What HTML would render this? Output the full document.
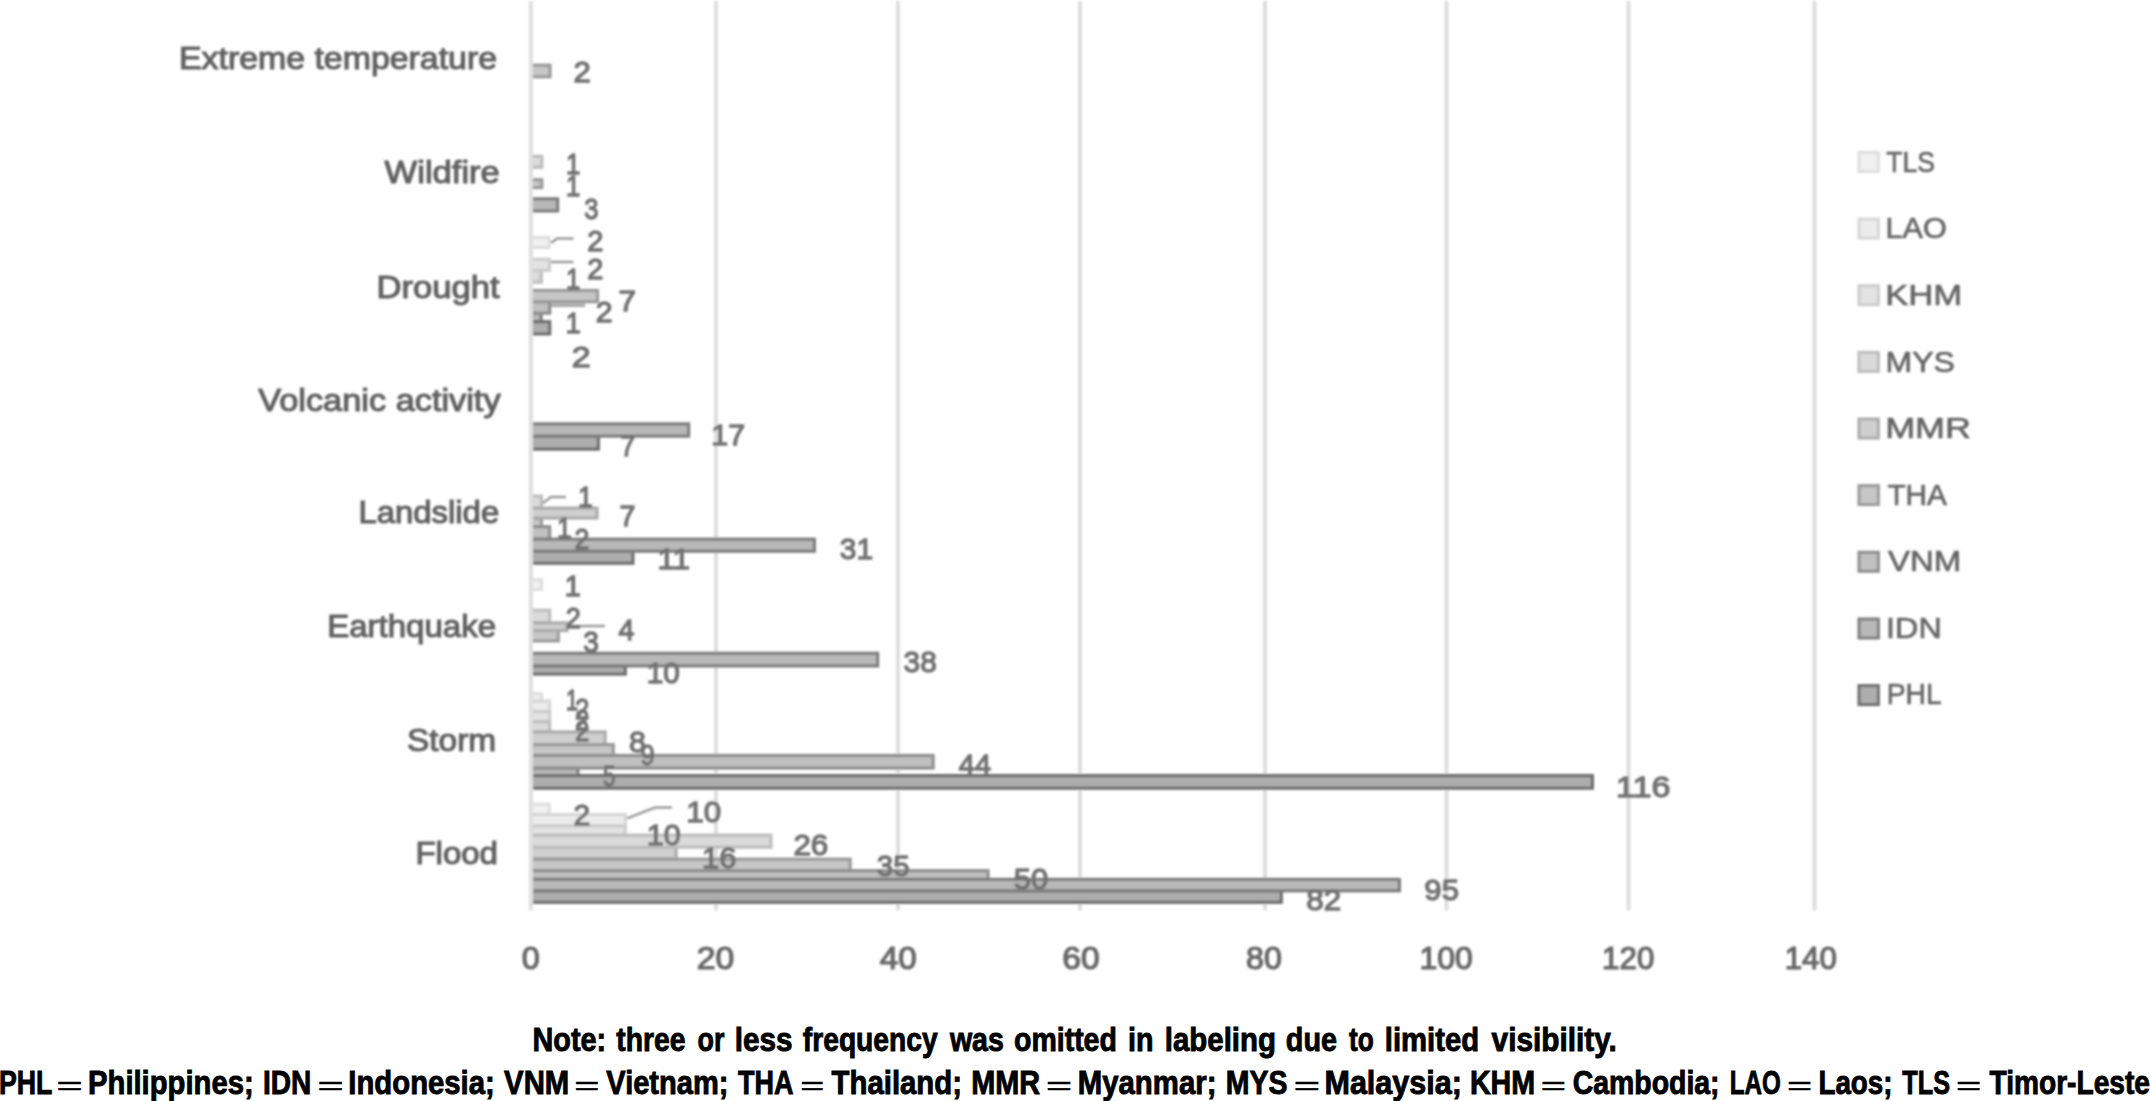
<!DOCTYPE html>
<html lang="en"><head><meta charset="utf-8"><title>Frequency of natural hazards by country</title>
<style>
html,body{margin:0;padding:0;background:#fff;}
body{width:2150px;height:1101px;overflow:hidden;}
svg{display:block;}
.c{font-family:"Liberation Sans",sans-serif;font-size:30.5px;}
.cat{fill:#626262;stroke:#626262;stroke-width:1.1px;}
.dl{fill:#727272;stroke:#727272;stroke-width:1.3px;font-size:29.6px;}
.ax{fill:#686868;stroke:#686868;stroke-width:1.2px;font-size:30.6px;}
.lg{fill:#666;stroke:#666;stroke-width:.7px;font-size:29.8px;}
.note{font-family:"Liberation Sans",sans-serif;font-weight:bold;font-size:33px;fill:#000;stroke:#000;stroke-width:.9px;}
.eq{font-weight:normal;font-size:25px;stroke-width:.5px;}
</style></head><body>
<svg width="2150" height="1101" viewBox="0 0 2150 1101">
<defs><filter id="b" x="-2%" y="-2%" width="104%" height="104%"><feGaussianBlur stdDeviation="0.8"/></filter></defs>
<rect width="2150" height="1101" fill="#fff"/>
<g filter="url(#b)">
<line x1="530.9" y1="1" x2="530.9" y2="910.5" stroke="#dedede" stroke-width="4"/>
<line x1="716" y1="1" x2="716" y2="910.5" stroke="#dedede" stroke-width="4"/>
<line x1="898" y1="1" x2="898" y2="910.5" stroke="#dedede" stroke-width="4"/>
<line x1="1080" y1="1" x2="1080" y2="910.5" stroke="#dedede" stroke-width="4"/>
<line x1="1265" y1="1" x2="1265" y2="910.5" stroke="#dedede" stroke-width="4"/>
<line x1="1446.5" y1="1" x2="1446.5" y2="910.5" stroke="#dedede" stroke-width="4"/>
<line x1="1628.5" y1="1" x2="1628.5" y2="910.5" stroke="#dedede" stroke-width="4"/>
<line x1="1814.5" y1="1" x2="1814.5" y2="910.5" stroke="#dedede" stroke-width="4"/>
<clipPath id="cp"><rect x="533" y="0" width="1400" height="920"/></clipPath>
<g clip-path="url(#cp)">
<rect x="531.0" y="804.20" width="18.2" height="10.30" fill="#f1f1f1" stroke="#dedede" stroke-width="3.2"/>
<rect x="531.0" y="814.50" width="94.2" height="11.50" fill="#ececec" stroke="#d6d6d6" stroke-width="3.2"/>
<rect x="531.0" y="826.00" width="94.2" height="9.20" fill="#e3e3e3" stroke="#cccccc" stroke-width="3.2"/>
<rect x="531.0" y="847.20" width="145.1" height="12.00" fill="#cfcfcf" stroke="#ababab" stroke-width="3.2"/>
<rect x="531.0" y="835.20" width="239.9" height="12.00" fill="#dadada" stroke="#bebebe" stroke-width="3.2"/>
<rect x="531.0" y="859.20" width="319.2" height="11.50" fill="#c6c6c6" stroke="#9a9a9a" stroke-width="3.2"/>
<rect x="531.0" y="870.70" width="457.0" height="8.70" fill="#c0c0c0" stroke="#8e8e8e" stroke-width="3.2"/>
<rect x="531.0" y="890.80" width="750.3" height="11.50" fill="#adadad" stroke="#6e6e6e" stroke-width="3.2"/>
<rect x="531.0" y="879.40" width="868.4" height="11.40" fill="#b8b8b8" stroke="#7e7e7e" stroke-width="3.2"/>
<rect x="531.0" y="693.90" width="10.4" height="7.10" fill="#f1f1f1" stroke="#dedede" stroke-width="3.2"/>
<rect x="531.0" y="701.00" width="18.6" height="10.50" fill="#ececec" stroke="#d6d6d6" stroke-width="3.2"/>
<rect x="531.0" y="711.50" width="18.6" height="10.20" fill="#e3e3e3" stroke="#cccccc" stroke-width="3.2"/>
<rect x="531.0" y="721.70" width="18.6" height="10.30" fill="#dadada" stroke="#bebebe" stroke-width="3.2"/>
<rect x="531.0" y="768.00" width="46.9" height="7.60" fill="#b8b8b8" stroke="#7e7e7e" stroke-width="3.2"/>
<rect x="531.0" y="732.00" width="74.1" height="12.60" fill="#cfcfcf" stroke="#ababab" stroke-width="3.2"/>
<rect x="531.0" y="744.60" width="82.3" height="10.90" fill="#c6c6c6" stroke="#9a9a9a" stroke-width="3.2"/>
<rect x="531.0" y="755.50" width="402.1" height="12.50" fill="#c0c0c0" stroke="#8e8e8e" stroke-width="3.2"/>
<rect x="531.0" y="775.60" width="1061.4" height="12.60" fill="#adadad" stroke="#6e6e6e" stroke-width="3.2"/>
<rect x="531.0" y="579.90" width="10.4" height="9.70" fill="#f1f1f1" stroke="#dedede" stroke-width="3.2"/>
<rect x="531.0" y="610.30" width="18.6" height="12.60" fill="#dadada" stroke="#bebebe" stroke-width="3.2"/>
<rect x="531.0" y="630.50" width="27.3" height="10.40" fill="#c6c6c6" stroke="#9a9a9a" stroke-width="3.2"/>
<rect x="531.0" y="622.90" width="36.0" height="7.60" fill="#cfcfcf" stroke="#ababab" stroke-width="3.2"/>
<rect x="531.0" y="665.90" width="94.3" height="8.20" fill="#adadad" stroke="#6e6e6e" stroke-width="3.2"/>
<rect x="531.0" y="653.30" width="346.6" height="12.60" fill="#b8b8b8" stroke="#7e7e7e" stroke-width="3.2"/>
<rect x="531.0" y="496.10" width="10.4" height="12.00" fill="#dadada" stroke="#bebebe" stroke-width="3.2"/>
<rect x="531.0" y="518.00" width="10.4" height="8.70" fill="#c6c6c6" stroke="#9a9a9a" stroke-width="3.2"/>
<rect x="531.0" y="526.70" width="18.6" height="12.50" fill="#c0c0c0" stroke="#8e8e8e" stroke-width="3.2"/>
<rect x="531.0" y="508.10" width="66.0" height="9.90" fill="#cfcfcf" stroke="#ababab" stroke-width="3.2"/>
<rect x="531.0" y="551.20" width="101.9" height="12.00" fill="#adadad" stroke="#6e6e6e" stroke-width="3.2"/>
<rect x="531.0" y="539.20" width="283.4" height="12.00" fill="#b8b8b8" stroke="#7e7e7e" stroke-width="3.2"/>
<rect x="531.0" y="436.10" width="67.4" height="13.00" fill="#adadad" stroke="#6e6e6e" stroke-width="3.2"/>
<rect x="531.0" y="423.90" width="157.6" height="12.20" fill="#b8b8b8" stroke="#7e7e7e" stroke-width="3.2"/>
<rect x="531.0" y="270.30" width="10.3" height="12.00" fill="#dadada" stroke="#bebebe" stroke-width="3.2"/>
<rect x="531.0" y="313.20" width="10.1" height="8.50" fill="#b8b8b8" stroke="#7e7e7e" stroke-width="3.2"/>
<rect x="531.0" y="237.50" width="17.9" height="10.00" fill="#f1f1f1" stroke="#dedede" stroke-width="3.2"/>
<rect x="531.0" y="259.30" width="18.4" height="11.00" fill="#e3e3e3" stroke="#cccccc" stroke-width="3.2"/>
<rect x="531.0" y="301.70" width="18.7" height="11.50" fill="#c0c0c0" stroke="#8e8e8e" stroke-width="3.2"/>
<rect x="531.0" y="321.70" width="18.7" height="12.20" fill="#adadad" stroke="#6e6e6e" stroke-width="3.2"/>
<rect x="531.0" y="290.50" width="66.5" height="11.20" fill="#c6c6c6" stroke="#9a9a9a" stroke-width="3.2"/>
<rect x="531.0" y="156.30" width="10.8" height="11.00" fill="#dadada" stroke="#bebebe" stroke-width="3.2"/>
<rect x="531.0" y="179.70" width="10.8" height="7.90" fill="#c6c6c6" stroke="#9a9a9a" stroke-width="3.2"/>
<rect x="531.0" y="198.80" width="26.6" height="12.10" fill="#b8b8b8" stroke="#7e7e7e" stroke-width="3.2"/>
<rect x="531.0" y="65.20" width="19.0" height="11.60" fill="#c6c6c6" stroke="#9a9a9a" stroke-width="3.2"/>
</g>
<polyline points="551,243 557,238.5 573.5,238.5" fill="none" stroke="#9c9c9c" stroke-width="2.5"/>
<polyline points="551,262 573.5,262" fill="none" stroke="#9c9c9c" stroke-width="2.5"/>
<polyline points="543,503 551,497 566,497" fill="none" stroke="#9c9c9c" stroke-width="2.5"/>
<polyline points="568,626 605,626" fill="none" stroke="#9c9c9c" stroke-width="2.5"/>
<polyline points="627,818.3 655,807.5 672,807.5" fill="none" stroke="#9c9c9c" stroke-width="2.5"/>
<line x1="551" y1="305.3" x2="585" y2="305.3" stroke="#a8a8a8" stroke-width="3.6"/>
<text class="c cat" x="415.40" y="864.20" textLength="82.60" lengthAdjust="spacingAndGlyphs">Flood</text>
<text class="c cat" x="407.00" y="750.60" textLength="89.20" lengthAdjust="spacingAndGlyphs">Storm</text>
<text class="c cat" x="327.20" y="636.80" textLength="168.80" lengthAdjust="spacingAndGlyphs">Earthquake</text>
<text class="c cat" x="358.40" y="523.20" textLength="140.80" lengthAdjust="spacingAndGlyphs">Landslide</text>
<text class="c cat" x="258.20" y="411.00" textLength="242.40" lengthAdjust="spacingAndGlyphs">Volcanic activity</text>
<text class="c cat" x="376.40" y="297.60" textLength="123.20" lengthAdjust="spacingAndGlyphs">Drought</text>
<text class="c cat" x="384.60" y="183.00" textLength="115.20" lengthAdjust="spacingAndGlyphs">Wildfire</text>
<text class="c cat" x="179.00" y="69.20" textLength="318.00" lengthAdjust="spacingAndGlyphs">Extreme temperature</text>
<text class="c dl" x="573.43" y="82.0" textLength="17.34" lengthAdjust="spacingAndGlyphs">2</text>
<text class="c dl" x="565.94" y="174.4" textLength="14.32" lengthAdjust="spacingAndGlyphs">1</text>
<text class="c dl" x="565.94" y="196.2" textLength="14.32" lengthAdjust="spacingAndGlyphs">1</text>
<text class="c dl" x="584.32" y="218.5" textLength="14.31" lengthAdjust="spacingAndGlyphs">3</text>
<text class="c dl" x="587.14" y="251.2" textLength="16.11" lengthAdjust="spacingAndGlyphs">2</text>
<text class="c dl" x="587.14" y="278.5" textLength="16.11" lengthAdjust="spacingAndGlyphs">2</text>
<text class="c dl" x="565.94" y="288.8" textLength="14.32" lengthAdjust="spacingAndGlyphs">1</text>
<text class="c dl" x="618.59" y="310.5" textLength="17.49" lengthAdjust="spacingAndGlyphs">7</text>
<text class="c dl" x="595.78" y="321.5" textLength="16.85" lengthAdjust="spacingAndGlyphs">2</text>
<text class="c dl" x="565.85" y="332.9" textLength="14.96" lengthAdjust="spacingAndGlyphs">1</text>
<text class="c dl" x="571.79" y="367.0" textLength="18.92" lengthAdjust="spacingAndGlyphs">2</text>
<text class="c dl" x="711.29" y="444.5" textLength="33.74" lengthAdjust="spacingAndGlyphs">17</text>
<text class="c dl" x="620.32" y="456.0" textLength="14.93" lengthAdjust="spacingAndGlyphs">7</text>
<text class="c dl" x="577.97" y="506.5" textLength="14.83" lengthAdjust="spacingAndGlyphs">1</text>
<text class="c dl" x="619.53" y="525.9" textLength="15.90" lengthAdjust="spacingAndGlyphs">7</text>
<text class="c dl" x="557.00" y="537.5" textLength="14.58" lengthAdjust="spacingAndGlyphs">1</text>
<text class="c dl" x="574.45" y="548.8" textLength="14.89" lengthAdjust="spacingAndGlyphs">2</text>
<text class="c dl" x="839.76" y="558.5" textLength="33.30" lengthAdjust="spacingAndGlyphs">31</text>
<text class="c dl" x="657.46" y="569.2" textLength="32.67" lengthAdjust="spacingAndGlyphs">11</text>
<text class="c dl" x="564.81" y="596.3" textLength="16.00" lengthAdjust="spacingAndGlyphs">1</text>
<text class="c dl" x="565.63" y="628.1" textLength="15.14" lengthAdjust="spacingAndGlyphs">2</text>
<text class="c dl" x="618.54" y="640.3" textLength="15.89" lengthAdjust="spacingAndGlyphs">4</text>
<text class="c dl" x="583.32" y="651.5" textLength="15.72" lengthAdjust="spacingAndGlyphs">3</text>
<text class="c dl" x="903.56" y="672.1" textLength="33.24" lengthAdjust="spacingAndGlyphs">38</text>
<text class="c dl" x="646.63" y="683.3" textLength="33.13" lengthAdjust="spacingAndGlyphs">10</text>
<text class="c dl" x="565.96" y="709.5" textLength="12.00" lengthAdjust="spacingAndGlyphs">1</text>
<text class="c dl" x="575.10" y="719.1" textLength="14.41" lengthAdjust="spacingAndGlyphs">2</text>
<text class="c dl" x="575.10" y="730.1" textLength="14.41" lengthAdjust="spacingAndGlyphs">2</text>
<text class="c dl" x="575.10" y="741.1" textLength="14.41" lengthAdjust="spacingAndGlyphs">2</text>
<text class="c dl" x="629.08" y="752.4" textLength="16.95" lengthAdjust="spacingAndGlyphs">8</text>
<text class="c dl" x="640.50" y="764.5" textLength="14.21" lengthAdjust="spacingAndGlyphs">9</text>
<text class="c dl" x="958.84" y="775.0" textLength="32.21" lengthAdjust="spacingAndGlyphs">44</text>
<text class="c dl" x="603.10" y="786.3" textLength="12.43" lengthAdjust="spacingAndGlyphs">5</text>
<text class="c dl" x="1616.02" y="797.0" textLength="54.42" lengthAdjust="spacingAndGlyphs">116</text>
<text class="c dl" x="573.49" y="824.5" textLength="16.72" lengthAdjust="spacingAndGlyphs">2</text>
<text class="c dl" x="686.31" y="822.1" textLength="34.92" lengthAdjust="spacingAndGlyphs">10</text>
<text class="c dl" x="646.76" y="845.4" textLength="34.14" lengthAdjust="spacingAndGlyphs">10</text>
<text class="c dl" x="701.94" y="868.0" textLength="34.42" lengthAdjust="spacingAndGlyphs">16</text>
<text class="c dl" x="793.42" y="854.9" textLength="34.85" lengthAdjust="spacingAndGlyphs">26</text>
<text class="c dl" x="876.77" y="876.2" textLength="32.97" lengthAdjust="spacingAndGlyphs">35</text>
<text class="c dl" x="1013.76" y="888.5" textLength="34.45" lengthAdjust="spacingAndGlyphs">50</text>
<text class="c dl" x="1424.34" y="899.8" textLength="34.67" lengthAdjust="spacingAndGlyphs">95</text>
<text class="c dl" x="1306.34" y="909.9" textLength="34.84" lengthAdjust="spacingAndGlyphs">82</text>
<text class="c ax" x="521.73" y="968.6" textLength="18.03" lengthAdjust="spacingAndGlyphs">0</text>
<text class="c ax" x="696.80" y="968.6" textLength="37.51" lengthAdjust="spacingAndGlyphs">20</text>
<text class="c ax" x="879.74" y="968.6" textLength="37.07" lengthAdjust="spacingAndGlyphs">40</text>
<text class="c ax" x="1062.29" y="968.6" textLength="37.42" lengthAdjust="spacingAndGlyphs">60</text>
<text class="c ax" x="1246.00" y="968.6" textLength="35.86" lengthAdjust="spacingAndGlyphs">80</text>
<text class="c ax" x="1419.57" y="968.6" textLength="53.28" lengthAdjust="spacingAndGlyphs">100</text>
<text class="c ax" x="1602.12" y="968.6" textLength="52.21" lengthAdjust="spacingAndGlyphs">120</text>
<text class="c ax" x="1784.72" y="968.6" textLength="52.21" lengthAdjust="spacingAndGlyphs">140</text>
<rect x="1859" y="152.4" width="19.4" height="19" fill="#f1f1f1" stroke="#dedede" stroke-width="3"/>
<text class="c lg" x="1886.30" y="171.8" textLength="48.61" lengthAdjust="spacingAndGlyphs">TLS</text>
<rect x="1859" y="219.1" width="19.4" height="19" fill="#ececec" stroke="#d6d6d6" stroke-width="3"/>
<text class="c lg" x="1885.59" y="238.4" textLength="61.28" lengthAdjust="spacingAndGlyphs">LAO</text>
<rect x="1859" y="285.7" width="19.4" height="19" fill="#e3e3e3" stroke="#cccccc" stroke-width="3"/>
<text class="c lg" x="1885.26" y="305.0" textLength="76.98" lengthAdjust="spacingAndGlyphs">KHM</text>
<rect x="1859" y="352.4" width="19.4" height="19" fill="#dadada" stroke="#bebebe" stroke-width="3"/>
<text class="c lg" x="1885.47" y="371.5" textLength="69.40" lengthAdjust="spacingAndGlyphs">MYS</text>
<rect x="1859" y="419.0" width="19.4" height="19" fill="#cfcfcf" stroke="#ababab" stroke-width="3"/>
<text class="c lg" x="1885.15" y="438.1" textLength="85.92" lengthAdjust="spacingAndGlyphs">MMR</text>
<rect x="1859" y="485.6" width="19.4" height="19" fill="#c6c6c6" stroke="#9a9a9a" stroke-width="3"/>
<text class="c lg" x="1887.43" y="504.7" textLength="59.53" lengthAdjust="spacingAndGlyphs">THA</text>
<rect x="1859" y="552.3" width="19.4" height="19" fill="#c0c0c0" stroke="#8e8e8e" stroke-width="3"/>
<text class="c lg" x="1887.96" y="571.3" textLength="73.14" lengthAdjust="spacingAndGlyphs">VNM</text>
<rect x="1859" y="619.0" width="19.4" height="19" fill="#b8b8b8" stroke="#7e7e7e" stroke-width="3"/>
<text class="c lg" x="1886.12" y="637.9" textLength="55.61" lengthAdjust="spacingAndGlyphs">IDN</text>
<rect x="1859" y="685.6" width="19.4" height="19" fill="#adadad" stroke="#6e6e6e" stroke-width="3"/>
<text class="c lg" x="1886.78" y="704.4" textLength="54.96" lengthAdjust="spacingAndGlyphs">PHL</text>
</g>
<text class="note" x="532.57" y="1051.3" textLength="73.60" lengthAdjust="spacingAndGlyphs">Note:</text>
<text class="note" x="616.25" y="1051.3" textLength="69.31" lengthAdjust="spacingAndGlyphs">three</text>
<text class="note" x="697.55" y="1051.3" textLength="26.86" lengthAdjust="spacingAndGlyphs">or</text>
<text class="note" x="734.73" y="1051.3" textLength="57.79" lengthAdjust="spacingAndGlyphs">less</text>
<text class="note" x="802.82" y="1051.3" textLength="134.83" lengthAdjust="spacingAndGlyphs">frequency</text>
<text class="note" x="949.88" y="1051.3" textLength="53.99" lengthAdjust="spacingAndGlyphs">was</text>
<text class="note" x="1013.99" y="1051.3" textLength="102.89" lengthAdjust="spacingAndGlyphs">omitted</text>
<text class="note" x="1128.00" y="1051.3" textLength="25.48" lengthAdjust="spacingAndGlyphs">in</text>
<text class="note" x="1164.74" y="1051.3" textLength="111.22" lengthAdjust="spacingAndGlyphs">labeling</text>
<text class="note" x="1285.82" y="1051.3" textLength="51.16" lengthAdjust="spacingAndGlyphs">due</text>
<text class="note" x="1348.98" y="1051.3" textLength="24.74" lengthAdjust="spacingAndGlyphs">to</text>
<text class="note" x="1384.76" y="1051.3" textLength="94.27" lengthAdjust="spacingAndGlyphs">limited</text>
<text class="note" x="1491.59" y="1051.3" textLength="125.33" lengthAdjust="spacingAndGlyphs">visibility.</text>
<text class="note" x="-0.99" y="1093.6" textLength="53.41" lengthAdjust="spacingAndGlyphs">PHL</text>
<text class="note eq" x="56.41" y="1094.3" textLength="26.20" lengthAdjust="spacingAndGlyphs">=</text>
<text class="note" x="88.04" y="1093.6" textLength="165.64" lengthAdjust="spacingAndGlyphs">Philippines;</text>
<text class="note" x="263.02" y="1093.6" textLength="48.37" lengthAdjust="spacingAndGlyphs">IDN</text>
<text class="note eq" x="317.61" y="1094.3" textLength="26.20" lengthAdjust="spacingAndGlyphs">=</text>
<text class="note" x="348.34" y="1093.6" textLength="146.45" lengthAdjust="spacingAndGlyphs">Indonesia;</text>
<text class="note" x="504.10" y="1093.6" textLength="65.16" lengthAdjust="spacingAndGlyphs">VNM</text>
<text class="note eq" x="574.39" y="1094.3" textLength="25.24" lengthAdjust="spacingAndGlyphs">=</text>
<text class="note" x="606.30" y="1093.6" textLength="122.15" lengthAdjust="spacingAndGlyphs">Vietnam;</text>
<text class="note" x="738.00" y="1093.6" textLength="55.41" lengthAdjust="spacingAndGlyphs">THA</text>
<text class="note eq" x="800.19" y="1094.3" textLength="24.04" lengthAdjust="spacingAndGlyphs">=</text>
<text class="note" x="831.57" y="1093.6" textLength="130.42" lengthAdjust="spacingAndGlyphs">Thailand;</text>
<text class="note" x="971.27" y="1093.6" textLength="68.92" lengthAdjust="spacingAndGlyphs">MMR</text>
<text class="note eq" x="1046.12" y="1094.3" textLength="26.08" lengthAdjust="spacingAndGlyphs">=</text>
<text class="note" x="1077.73" y="1093.6" textLength="138.76" lengthAdjust="spacingAndGlyphs">Myanmar;</text>
<text class="note" x="1225.79" y="1093.6" textLength="61.72" lengthAdjust="spacingAndGlyphs">MYS</text>
<text class="note eq" x="1293.80" y="1094.3" textLength="26.32" lengthAdjust="spacingAndGlyphs">=</text>
<text class="note" x="1324.46" y="1093.6" textLength="137.45" lengthAdjust="spacingAndGlyphs">Malaysia;</text>
<text class="note" x="1469.88" y="1093.6" textLength="65.34" lengthAdjust="spacingAndGlyphs">KHM</text>
<text class="note eq" x="1540.89" y="1094.3" textLength="25.24" lengthAdjust="spacingAndGlyphs">=</text>
<text class="note" x="1572.73" y="1093.6" textLength="146.87" lengthAdjust="spacingAndGlyphs">Cambodia;</text>
<text class="note" x="1729.68" y="1093.6" textLength="51.03" lengthAdjust="spacingAndGlyphs">LAO</text>
<text class="note eq" x="1786.90" y="1094.3" textLength="25.12" lengthAdjust="spacingAndGlyphs">=</text>
<text class="note" x="1818.44" y="1093.6" textLength="74.10" lengthAdjust="spacingAndGlyphs">Laos;</text>
<text class="note" x="1902.32" y="1093.6" textLength="47.67" lengthAdjust="spacingAndGlyphs">TLS</text>
<text class="note eq" x="1955.99" y="1094.3" textLength="25.24" lengthAdjust="spacingAndGlyphs">=</text>
<text class="note" x="1989.49" y="1093.6" textLength="160.47" lengthAdjust="spacingAndGlyphs">Timor-Leste</text>
</svg></body></html>
